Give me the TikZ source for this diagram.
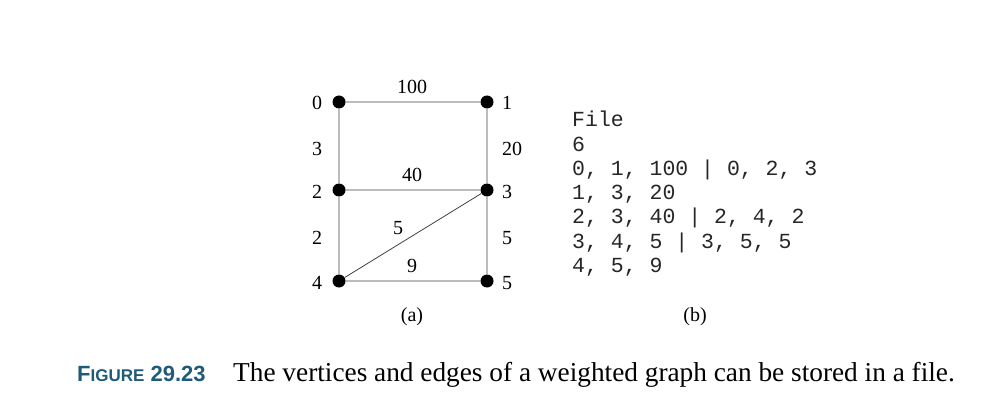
\documentclass[tikz,border=0pt]{standalone}
\usepackage{fontspec}
\setmainfont{Liberation Serif}
\setmonofont{Liberation Mono}
\setsansfont{Liberation Sans}
\definecolor{teal1}{HTML}{1F5A78}
\begin{document}
\begin{tikzpicture}[x=1pt,y=-1pt,
  v/.style={circle,fill=black,inner sep=0pt,minimum size=13pt},
  lab/.style={font=\fontsize{20}{21}\selectfont,inner sep=0pt},
  e/.style={line width=0.8pt,draw=black!75}]
\useasboundingbox (0,0) rectangle (998,414);
\node[v] (n0) at (339,102) {};
\node[v] (n1) at (487,102) {};
\node[v] (n2) at (339,190) {};
\node[v] (n3) at (487,190) {};
\node[v] (n4) at (339,281) {};
\node[v] (n5) at (487,281) {};
\draw[e] (n0)--(n1) (n0)--(n2) (n1)--(n3) (n2)--(n3) (n2)--(n4) (n3)--(n5) (n4)--(n5) (n4)--(n3);
\node[lab] (l0) at (317,103) {0};
\node[lab] (l1) at (507,103) {1};
\node[lab] (l2) at (317,192) {2};
\node[lab] (l3) at (507,192) {3};
\node[lab] (l4) at (317,283) {4};
\node[lab] (l5) at (507,283) {5};
\node[lab] (w01) at (412,87) {100};
\node[lab] (w02) at (317,149) {3};
\node[lab] (w13) at (512,149) {20};
\node[lab] (w23) at (412,175) {40};
\node[lab] (w24) at (317,238) {2};
\node[lab] (w34) at (398,228) {5};
\node[lab] (w35) at (507,238) {5};
\node[lab] (w45) at (412,266) {9};
\node[lab] (ca) at (412,317) {(a)};
\node[lab] (cb) at (695,317) {(b)};
\node[anchor=north west,inner sep=0pt,align=left,text=black!85,font=\ttfamily\fontsize{21.5}{24.3}\selectfont] (file) at (572,111)
{File\\6\\0, 1, 100 | 0, 2, 3\\1, 3, 20\\2, 3, 40 | 2, 4, 2\\3, 4, 5 | 3, 5, 5\\4, 5, 9};
\node[anchor=base west,inner sep=0pt,text=teal1,font=\sffamily\bfseries\fontsize{22}{24}\selectfont] (fig) at (77,381)
{F{\fontsize{17}{20}\selectfont IGURE} 29.23};
\node[anchor=base west,inner sep=0pt,font=\fontsize{27.3}{29}\selectfont] (cap) at (233,381)
{The vertices and edges of a weighted graph can be stored in a file.};
\end{tikzpicture}
\end{document}
